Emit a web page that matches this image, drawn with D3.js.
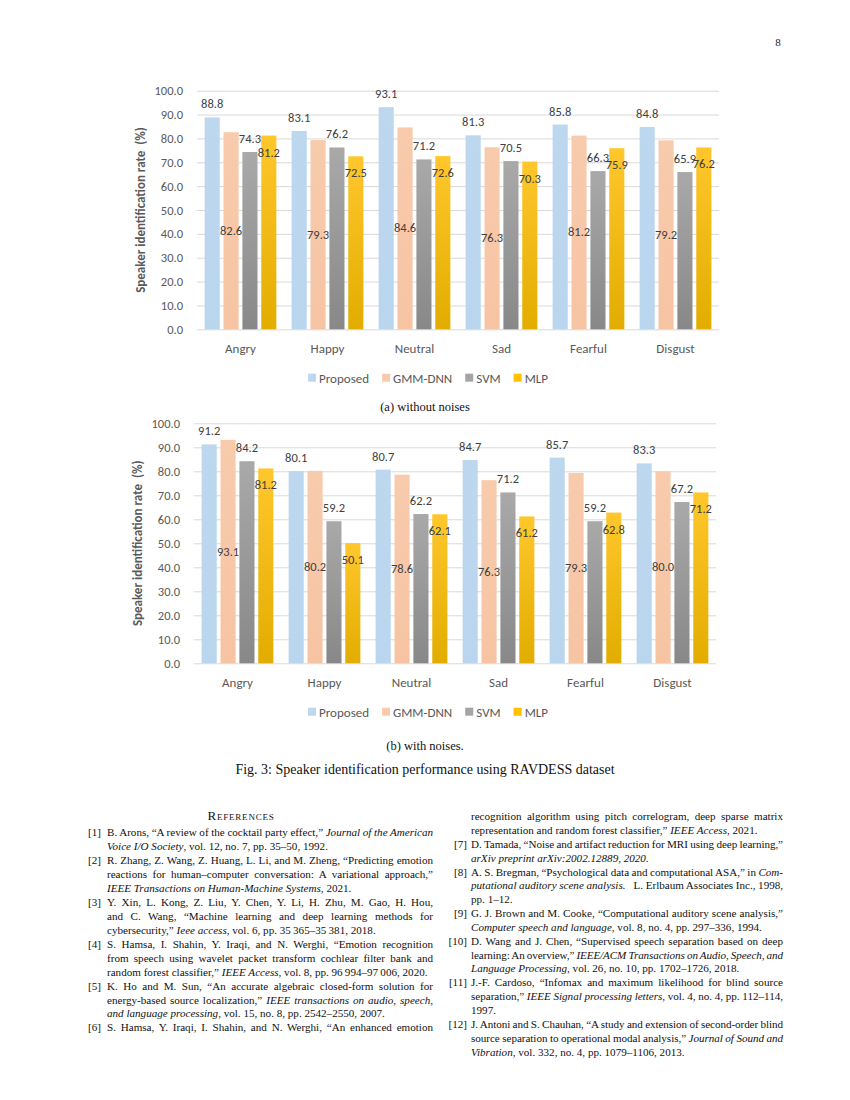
<!DOCTYPE html>
<html><head><meta charset="utf-8">
<script src="https://cdn.jsdelivr.net/npm/d3@7"></script>
<style>
body{margin:0;background:#fff;}
#page{position:relative;width:850px;height:1100px;overflow:hidden;background:#fff;}
#chart{position:absolute;left:0;top:0;}
.ln{position:absolute;font-family:"Liberation Serif","Times New Roman",serif;font-size:11.1px;line-height:14px;color:#111;white-space:nowrap;}
.lb{position:absolute;font-family:"Liberation Serif","Times New Roman",serif;font-size:11.1px;line-height:14px;color:#111;text-align:right;width:30px;}
.head{position:absolute;font-family:"Liberation Serif","Times New Roman",serif;font-size:13px;font-variant:small-caps;letter-spacing:0.8px;color:#111;text-align:center;}
</style></head>
<body><div id="page"><svg id="chart" width="850" height="1100"></svg><div id="refs"></div></div>
<script>
// ---------- data ----------
const categories = ["Angry","Happy","Neutral","Sad","Fearful","Disgust"];
const seriesNames = ["Proposed","GMM-DNN","SVM","MLP"];
const proposedA = [88.8, 83.1, 93.1, 81.3, 85.8, 84.8];
const gmmDnnA   = [82.6, 79.3, 84.6, 76.3, 81.2, 79.2];
const svmA      = [74.3, 76.2, 71.2, 70.5, 66.3, 65.9];
const mlpA      = [81.2, 72.5, 72.6, 70.3, 75.9, 76.2];
const proposedB = [91.2, 80.1, 80.7, 84.7, 85.7, 83.3];
const gmmDnnB   = [93.1, 80.2, 78.6, 76.3, 79.3, 80.0];
const svmB      = [84.2, 59.2, 62.2, 71.2, 59.2, 67.2];
const mlpB      = [81.2, 50.1, 62.1, 61.2, 62.8, 71.2];
const yTicks = [0,10,20,30,40,50,60,70,80,90,100];
const yTitle = "Speaker identification rate  (%)";
const subCaptions = ["(a) without noises", "(b) with noises."];
const figCaption = "Fig. 3: Speaker identification performance using RAVDESS dataset";

// ---------- styles ----------
const chartFont = "Carlito, Calibri, Lato, 'Open Sans', sans-serif";
const textCol = "#595959";
const labelCol = "#404040";

const svg = d3.select("#chart");
const defs = svg.append("defs");
function grad(id, c0, c1){
  const g = defs.append("linearGradient").attr("id", id).attr("x1",0).attr("y1",0).attr("x2",0).attr("y2",1);
  g.append("stop").attr("offset","0%").attr("stop-color",c0);
  g.append("stop").attr("offset","100%").attr("stop-color",c1);
}
grad("gProp","#BDD7EE","#BAD5EE");
grad("gGmm","#F8CBAD","#F6C4A3");
grad("gSvm","#A9A9A9","#888888");
grad("gMlp","#FFC72C","#E2AD00");
const fills = ["url(#gProp)","url(#gGmm)","url(#gSvm)","url(#gMlp)"];
const legendFills = ["#BDD7EE","#F8CBAD","#A5A5A5","#FFC000"];

// page number
svg.append("text").attr("x",778).attr("y",46).attr("text-anchor","middle")
  .style("font-family","'Liberation Serif',serif").style("font-size","11px").attr("fill","#222").text("8");

function drawPanel(cfg){
  const {left, right, y0, y100, series, caption, captionY} = cfg;
  const g = svg.append("g");
  const x0 = d3.scaleBand().domain(categories).range([left,right]).paddingInner(0.132).paddingOuter(0.066);
  const x1 = d3.scaleBand().domain(seriesNames).range([0, x0.bandwidth()]).paddingInner(0.2).paddingOuter(0.1);
  const y = d3.scaleLinear().domain([0,100]).range([y0,y100]);

  // grid + y axis
  const ya = g.append("g").attr("transform",`translate(${left},0)`)
    .call(d3.axisLeft(y).tickValues(yTicks).tickSize(-(right-left)).tickPadding(14).tickFormat(d3.format(".1f")));
  ya.select(".domain").remove();
  ya.selectAll(".tick line").attr("stroke","#D9D9D9").attr("stroke-width",1);
  ya.selectAll(".tick text").attr("fill",textCol).style("font-family",chartFont).style("font-size","12.5px");

  // bars
  series.forEach((vals, si) => {
    g.append("g").selectAll("rect").data(vals).join("rect")
      .attr("x",(d,i)=>x0(categories[i]) + x1(seriesNames[si]))
      .attr("y",d=>y(d))
      .attr("width",x1.bandwidth())
      .attr("height",d=>y(0)-y(d))
      .attr("fill",fills[si]);
  });
  // data labels
  series.forEach((vals, si) => {
    g.append("g").selectAll("text").data(vals).join("text")
      .attr("x",(d,i)=>x0(categories[i]) + x1(seriesNames[si]) + x1.bandwidth()/2)
      .attr("y",d=>{
        if (si===1) return y(d/2) + 4;
        if (si===3) return y(d) + 21;
        return y(d) - 9;
      })
      .attr("text-anchor","middle")
      .attr("fill",labelCol)
      .style("font-family",chartFont).style("font-size","12.5px")
      .text(d=>d.toFixed(1));
  });

  // x axis labels
  const xa = g.append("g").attr("transform",`translate(0,${y0})`)
    .call(d3.axisBottom(x0).tickSize(0).tickPadding(14));
  xa.select(".domain").remove();
  xa.selectAll(".tick text").attr("fill",textCol).style("font-family",chartFont).style("font-size","13px");

  // y title
  g.append("text").attr("transform",`translate(${left-52},${(y0+y100)/2}) rotate(-90)`)
    .attr("text-anchor","middle").attr("fill",textCol)
    .style("font-family",chartFont).style("font-size","13px").style("font-weight","bold")
    .attr("xml:space","preserve").style("white-space","pre")
    .text(yTitle);

  // legend
  const lg = g.append("g");
  let cx = 0;
  seriesNames.forEach((n, si) => {
    const it = lg.append("g").attr("transform",`translate(${cx},0)`);
    it.append("rect").attr("x",0).attr("y",-4).attr("width",8).attr("height",8).attr("fill",legendFills[si]);
    const t = it.append("text").attr("x",11).attr("y",5).attr("fill",textCol)
      .style("font-family",chartFont).style("font-size","13px").text(n);
    cx += 11 + t.node().getComputedTextLength() + 13;
  });
  const lw = cx - 13;
  lg.attr("transform",`translate(${428 - lw/2},${y0+48.4})`);

  // caption
  svg.append("text").attr("x",425).attr("y",captionY).attr("text-anchor","middle")
    .style("font-family","'Liberation Serif',serif").style("font-size","12.5px").attr("fill","#111").text(caption);
}

drawPanel({left:197, right:719, y0:329.3, y100:90.7, series:[proposedA,gmmDnnA,svmA,mlpA], caption:subCaptions[0], captionY:411});
drawPanel({left:194, right:716, y0:663.3, y100:423.3, series:[proposedB,gmmDnnB,svmB,mlpB], caption:subCaptions[1], captionY:750});

svg.append("text").attr("x",425).attr("y",774).attr("text-anchor","middle")
  .style("font-family","'Liberation Serif',serif").style("font-size","14px").attr("fill","#111").text(figCaption);

// ---------- references ----------
const leftRefs = [
 {label:"[1]", lines:["B. Arons, “A review of the cocktail party effect,” <i>Journal of the American</i>", "<i>Voice I/O Society</i>, vol. 12, no. 7, pp. 35–50, 1992."]},
 {label:"[2]", lines:["R. Zhang, Z. Wang, Z. Huang, L. Li, and M. Zheng, “Predicting emotion","reactions for human–computer conversation: A variational approach,”","<i>IEEE Transactions on Human-Machine Systems</i>, 2021."]},
 {label:"[3]", lines:["Y. Xin, L. Kong, Z. Liu, Y. Chen, Y. Li, H. Zhu, M. Gao, H. Hou,","and C. Wang, “Machine learning and deep learning methods for","cybersecurity,” <i>Ieee access</i>, vol. 6, pp. 35&#8239;365–35&#8239;381, 2018."]},
 {label:"[4]", lines:["S. Hamsa, I. Shahin, Y. Iraqi, and N. Werghi, “Emotion recognition","from speech using wavelet packet transform cochlear filter bank and","random forest classifier,” <i>IEEE Access</i>, vol. 8, pp. 96&#8239;994–97&#8239;006, 2020."]},
 {label:"[5]", lines:["K. Ho and M. Sun, “An accurate algebraic closed-form solution for","energy-based source localization,” <i>IEEE transactions on audio, speech,</i>","<i>and language processing</i>, vol. 15, no. 8, pp. 2542–2550, 2007."]},
 {label:"[6]", lines:["S. Hamsa, Y. Iraqi, I. Shahin, and N. Werghi, “An enhanced emotion"], open:true}
];
const rightRefs = [
 {label:"", lines:["recognition algorithm using pitch correlogram, deep sparse matrix","representation and random forest classifier,” <i>IEEE Access</i>, 2021."]},
 {label:"[7]", lines:["D. Tamada, “Noise and artifact reduction for MRI using deep learning,”","<i>arXiv preprint arXiv:2002.12889, 2020.</i>"]},
 {label:"[8]", lines:["A. S. Bregman, “Psychological data and computational ASA,” in <i>Com-</i>","<i>putational auditory scene analysis.</i>&nbsp;&nbsp; L. Erlbaum Associates Inc., 1998,","pp. 1–12."]},
 {label:"[9]", lines:["G. J. Brown and M. Cooke, “Computational auditory scene analysis,”","<i>Computer speech and language</i>, vol. 8, no. 4, pp. 297–336, 1994."]},
 {label:"[10]", lines:["D. Wang and J. Chen, “Supervised speech separation based on deep","learning: An overview,” <i>IEEE/ACM Transactions on Audio, Speech, and</i>","<i>Language Processing</i>, vol. 26, no. 10, pp. 1702–1726, 2018."]},
 {label:"[11]", lines:["J.-F. Cardoso, “Infomax and maximum likelihood for blind source","separation,” <i>IEEE Signal processing letters</i>, vol. 4, no. 4, pp. 112–114,","1997."]},
 {label:"[12]", lines:["J. Antoni and S. Chauhan, “A study and extension of second-order blind","source separation to operational modal analysis,” <i>Journal of Sound and</i>","<i>Vibration</i>, vol. 332, no. 4, pp. 1079–1106, 2013."]}
];
const refs = d3.select("#refs");
refs.append("div").attr("class","head").style("left","171px").style("width","140px").style("top","808px").text("References");

function drawCol(list, textLeft, width, labelRight, baseline0, lh){
  let k = 0;
  list.forEach(ent => {
    ent.lines.forEach((ln, j) => {
      const top = baseline0 + k*lh - 10.9;
      if (j===0 && ent.label){
        refs.append("div").attr("class","lb").style("left",(labelRight-30)+"px").style("top",top+"px").html(ent.label);
      }
      const justify = !((j===ent.lines.length-1) && !ent.open);
      const div = refs.append("div").attr("class","ln").style("left",textLeft+"px").style("top",top+"px");
      const span = div.append("span").html(ln);
      let nat = span.node().getBoundingClientRect().width;
      const txt = span.node().textContent;
      const nSp = (txt.match(/[ \u00A0]/g) || []).length;
      if (nat > width) {
        // spread part of the compression over letters
        const ls = (width - nat) * 0.6 / txt.length;
        span.style("letter-spacing", ls + "px");
        nat = span.node().getBoundingClientRect().width;
      }
      if (nSp > 0 && (justify || nat > width)) {
        span.style("word-spacing", ((width - nat) / nSp) + "px");
      }
      k++;
    });
  });
}
drawCol(leftRefs, 107, 326, 101, 836, 13.95);
drawCol(rightRefs, 471, 312, 467, 820, 13.85);
</script>
</body></html>
